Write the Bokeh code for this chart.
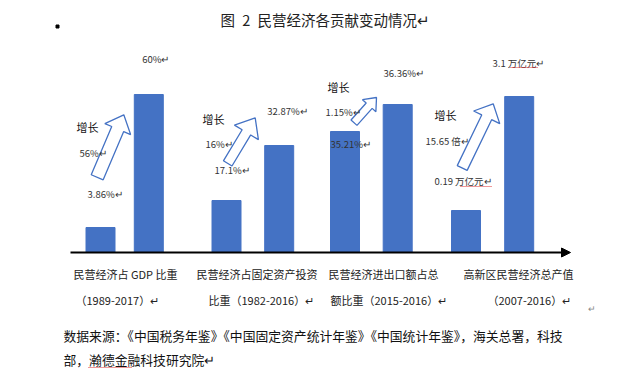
import math
from bokeh.plotting import figure
from bokeh.models import Range1d, Arrow, NormalHead
from bokeh.core.properties import value
from bokeh.embed import file_html
from bokeh.resources import INLINE

# ---------------- data ----------------
title = "图\u20022\u2002民营经济各贡献变动情况↵"
cat_line1 = ["民营经济占 GDP 比重", "民营经济占固定资产投资", "民营经济进出口额占总", "高新区民营经济总产值"]
cat_line2 = ["（1989-2017）↵", "比重（1982-2016）↵", "额比重（2015-2016）↵", "（2007-2016）↵"]
start_labels = ["3.86%↵", "17.1%↵", "35.21%↵", "0.19 万亿元↵"]
end_labels = ["60%↵", "32.87%↵", "36.36%↵", "3.1 万亿元↵"]
growth_labels = ["56%↵", "16%↵", "1.15%↵", "15.65 倍↵"]
growth_word = ["增长", "增长", "增长", "增长"]
# bar heights as drawn (illustrative, not to scale)
start_bar = [25, 52, 121, 42]
end_bar = [158, 107, 148, 156]
source_lines = ["数据来源：《中国税务年鉴》《中国固定资产统计年鉴》《中国统计年鉴》，海关总署，科技",
                "部，瀚德金融科技研究院↵"]

# ---------------- layout ----------------
start_x = [100, 226, 344.5, 465.5]
end_x = [148.3, 278.7, 397.2, 518.7]
bar_w = 29
word_xy = [(76, 126), (202, 134), (327, 166), (434, 138)]
growth_xy = [(79, 100), (205, 109), (325, 141), (425, 112)]
start_xy = [(87, 59), (214, 83), (330, 109), (434, 72)]
end_xy = [(141.7, 194), (266.7, 141.3), (383, 180), (492, 190)]
cat1_x = [73, 196, 328, 463]
cat2_x = [75, 208, 330, 487]
# block arrows: tail centre, tip, shaft width, head width, head length
arrows = [((96.7, 75.2), (123.3, 137.7), 13, 28, 15.5),
          ((227.2, 89.1), (254.7, 134.7), 10, 28, 17),
          ((353.5, 129.8), (376.0, 155.0), 8, 18, 11),
          ((461.7, 84.5), (492.7, 148.7), 11, 29, 15)]
# spell-check underlines (x0, x1, y)
squiggles = [(510, 537, 185), (460, 492, 66), (88, 132, -115)]

BLUE = "#4472C4"
FONT = value("Noto Sans CJK SC")

p = figure(width=624, height=369, x_range=Range1d(0, 624), y_range=Range1d(-117, 252),
           output_backend="svg", toolbar_location=None, min_border=0,
           x_axis_location=None, y_axis_location=None)
p.grid.visible = False
p.outline_line_color = None
p.background_fill_color = "white"

# bars
p.vbar(x=start_x, top=start_bar, bottom=0, width=bar_w, color=BLUE)
p.vbar(x=end_x, top=end_bar, bottom=0, width=bar_w, color=BLUE)

# baseline axis with arrow
p.add_layout(Arrow(x_start=70, y_start=0, x_end=570, y_end=0, line_width=2, line_color="black",
                   end=NormalHead(size=9, fill_color="black", line_color="black")))

# block arrows
xs, ys = [], []
for (tx, ty), (px, py), s, h, L in arrows:
    dx, dy = px - tx, py - ty
    n = math.hypot(dx, dy)
    dx, dy = dx / n, dy / n
    nx, ny = -dy, dx
    bx, by = px - L * dx, py - L * dy
    pts = [(tx + nx * s / 2, ty + ny * s / 2), (bx + nx * s / 2, by + ny * s / 2),
           (bx + nx * h / 2, by + ny * h / 2), (px, py),
           (bx - nx * h / 2, by - ny * h / 2), (bx - nx * s / 2, by - ny * s / 2),
           (tx - nx * s / 2, ty - ny * s / 2)]
    xs.append([q[0] for q in pts])
    ys.append([q[1] for q in pts])
p.patches(xs, ys, fill_color="white", line_color=BLUE, line_width=1.3)

def txt(xy_list, labels, size, color="#222222", align="left"):
    p.text(x=[q[0] for q in xy_list], y=[q[1] for q in xy_list], text=labels,
           text_font=FONT, text_font_size=size, text_color=color,
           text_baseline="middle", text_align=align)

txt(word_xy, growth_word, "11px", "#111111")
txt(growth_xy, growth_labels, "9.5px", "#333333")
txt(start_xy, start_labels, "9.5px", "#333333")
txt(end_xy, end_labels, "9.5px", "#333333")

# category labels
txt(list(zip(cat1_x, [-21] * 4)), cat_line1, "11px", "#222222")
txt(list(zip(cat2_x, [-47] * 4)), cat_line2, "11px", "#222222")

# title, source, artifacts
txt([(220, 233)], [title], "14.5px", "#222222")
txt([(63, -83), (63, -107)], source_lines, "12.8px", "#111111")
txt([(587, -56)], ["↵"], "9px", "#888888")
p.scatter([57], [226], marker="square", size=3, color="black")

# red wavy spell-check marks (drawn as dotted red lines)
p.segment(x0=[s[0] for s in squiggles], y0=[s[2] for s in squiggles],
          x1=[s[1] for s in squiggles], y1=[s[2] for s in squiggles],
          line_color="#E03030", line_width=1, line_dash="1 1")

open("out.html", "w").write(file_html(p, INLINE))
